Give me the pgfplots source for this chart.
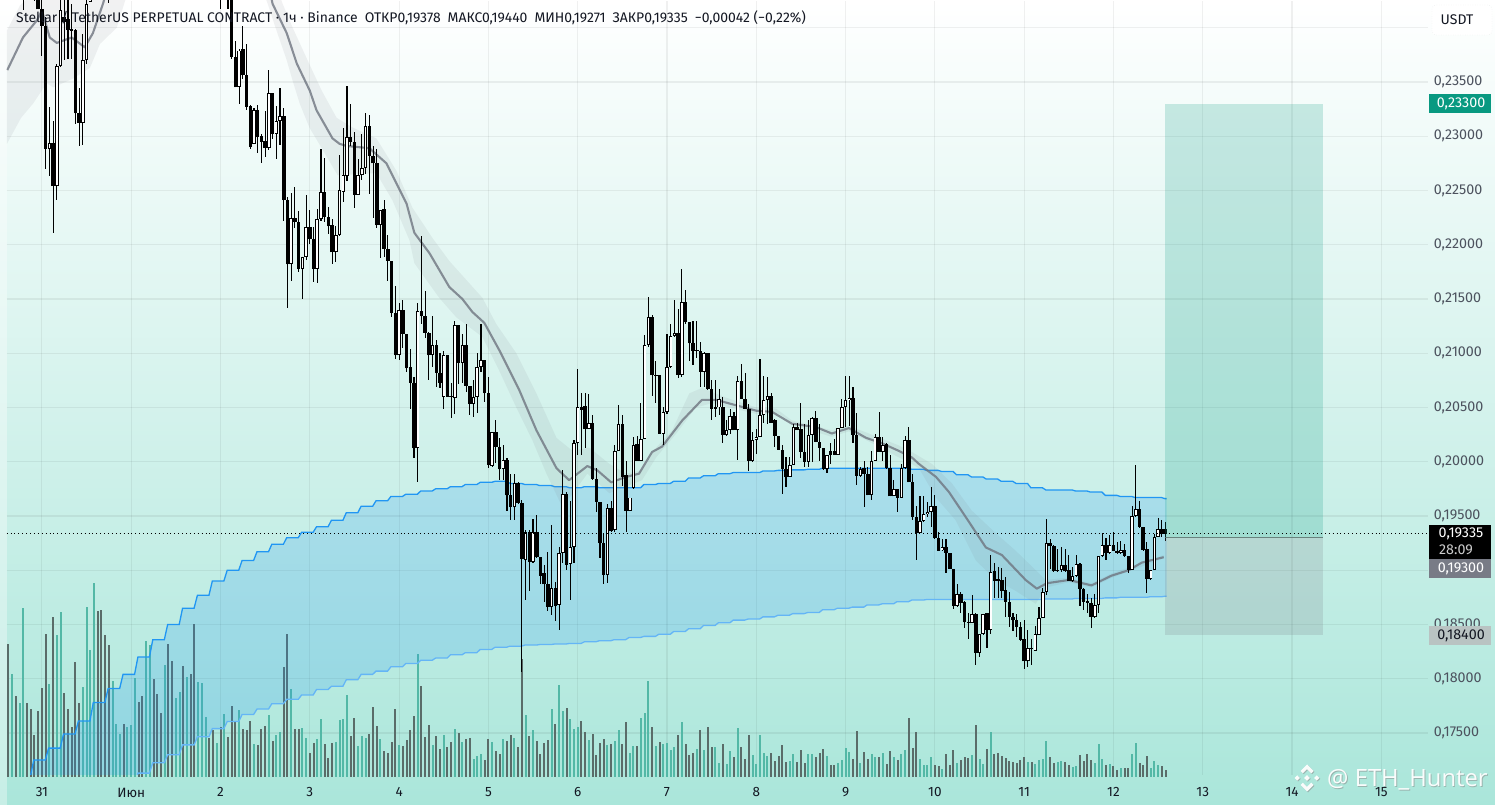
\documentclass[border=0pt]{standalone}
\usepackage{fontspec}
\setmainfont{Fira Sans}
\newfontfamily\wmfont{Open Sans}
\usepackage{pgfplots}
\pgfplotsset{compat=1.18}
\usepackage{pgfplotstable}
\definecolor{bgbot}{HTML}{AAE6DA}
\definecolor{volup}{HTML}{53B8A6}
\definecolor{voldn}{HTML}{5A6C69}
\definecolor{prof}{HTML}{089981}
\definecolor{loss}{HTML}{787B86}
\definecolor{ublue}{HTML}{2196F3}
\definecolor{lblue}{HTML}{64B5F6}
\definecolor{maline}{HTML}{6F7580}
\definecolor{ink}{HTML}{131722}
\definecolor{tickc}{HTML}{4C525E}
\definecolor{stopbox}{HTML}{B9C3C2}
% t = hour from 31 May 00:00; prices in 0.0001 USDT; v = volume (arbitrary units)
\pgfplotstableread{
t o hi lo c v
-9 2500 2510 2470 2480 133
-8 2480 2495 2475 2490 103
-7 2490 2495 2470 2475 81
-6 2475 2485 2470 2480 74
-5 2430 2450 2416 2445 169
-4 2445 2450 2435 2440 74
-3 2440 2445 2430 2435 68
-2 2435 2440 2425 2430 42
-1 2430 2435 2417 2417 66
0 2417 2440 2374 2402 89
1 2402 2410 2270 2288 143
2 2288 2327 2263 2294 93
3 2294 2314 2211 2254 160
4 2254 2367 2241 2365 142
5 2365 2430 2364 2416 165
6 2410 2430 2370 2405 84
7 2408 2440 2371 2398 68
8 2399 2422 2371 2397 50
9 2398 2399 2311 2321 115
10 2321 2344 2291 2312 74
11 2312 2394 2292 2370 90
12 2370 2440 2367 2422 170
13 2424 2450 2424 2445 127
14 2445 2490 2440 2480 194
15 2480 2490 2465 2470 166
16 2470 2480 2455 2460 167
17 2460 2470 2445 2450 142
18 2450 2455 2423 2435 132
19 2435 2455 2430 2450 96
20 2450 2470 2445 2465 53
21 2465 2480 2460 2475 43
22 2475 2480 2460 2465 53
23 2465 2480 2460 2475 50
24 2475 2490 2470 2485 52
25 2485 2510 2480 2505 99
26 2505 2510 2485 2490 75
27 2490 2495 2470 2475 81
28 2475 2515 2470 2510 136
29 2510 2540 2505 2535 132
30 2535 2540 2510 2515 98
31 2515 2520 2495 2500 83
32 2500 2505 2485 2490 64
33 2490 2525 2485 2520 112
34 2520 2525 2485 2490 133
35 2490 2495 2460 2465 116
36 2465 2485 2460 2480 79
37 2480 2500 2475 2495 85
38 2495 2500 2465 2470 111
39 2470 2495 2465 2490 100
40 2490 2495 2465 2470 103
41 2470 2475 2435 2440 153
42 2440 2465 2435 2460 95
43 2460 2475 2455 2470 94
44 2470 2485 2465 2480 60
45 2480 2485 2465 2470 39
46 2470 2475 2450 2455 47
47 2455 2470 2450 2465 34
48 2465 2470 2417 2445 50
49 2445 2460 2430 2455 63
50 2455 2460 2417 2445 40
51 2445 2450 2371 2373 71
52 2373 2388 2345 2345 55
53 2345 2380 2330 2379 67
54 2380 2402 2353 2356 48
55 2356 2385 2324 2327 47
56 2328 2329 2288 2290 56
57 2293 2326 2293 2324 33
58 2324 2329 2285 2299 32
59 2300 2302 2275 2295 48
60 2296 2323 2281 2289 51
61 2289 2361 2287 2340 62
62 2340 2340 2297 2302 36
63 2302 2328 2279 2314 42
64 2314 2344 2292 2319 45
65 2319 2326 2222 2241 110
66 2241 2244 2142 2182 143
67 2182 2248 2167 2225 88
68 2225 2253 2215 2221 48
69 2221 2231 2175 2178 48
70 2178 2189 2150 2189 49
71 2189 2246 2186 2216 39
72 2216 2232 2201 2205 24
73 2205 2216 2166 2178 34
74 2178 2233 2165 2224 38
75 2224 2288 2222 2249 58
76 2249 2280 2221 2226 33
77 2226 2235 2210 2217 19
78 2218 2224 2182 2193 34
79 2193 2217 2184 2209 35
80 2209 2283 2208 2250 57
81 2249 2308 2239 2264 58
82 2263 2346 2259 2299 82
83 2299 2330 2291 2295 41
84 2295 2304 2234 2246 59
85 2246 2279 2246 2264 31
86 2264 2302 2260 2271 41
87 2271 2321 2265 2309 39
88 2309 2320 2247 2282 43
89 2282 2291 2225 2275 70
90 2275 2288 2215 2218 51
91 2218 2232 2188 2232 38
92 2233 2241 2189 2196 26
93 2196 2209 2167 2185 24
94 2185 2185 2133 2137 35
95 2137 2162 2095 2098 68
96 2098 2146 2094 2140 32
97 2140 2149 2105 2118 31
98 2118 2118 2083 2086 37
99 2087 2104 2049 2073 47
100 2073 2078 2003 2013 61
101 2013 2146 1981 2139 123
102 2139 2208 2127 2134 91
103 2134 2157 2114 2119 40
104 2119 2120 2075 2098 52
105 2098 2134 2087 2108 32
106 2108 2112 2069 2082 41
107 2082 2100 2068 2073 28
108 2060 2102 2049 2098 42
109 2098 2098 2060 2060 30
110 2060.5 2073 2040 2060 35
111 2059 2130 2044 2126 48
112 2126 2126 2072 2091 44
113 2091 2118 2073 2108 35
114 2108 2127 2064 2070 38
115 2070 2070 2043 2053 39
116 2053 2075 2041 2060 18
117 2060 2100 2045 2087 21
118 2087 2127 2083 2094 23
119 2094 2094 2055 2063 17
120 2063 2078 1994 1997 38
121 1996 2027 1995 2027 35
122 2027 2038 1999 2014 26
123 2014 2022 1983 1993 23
124 1993 2015 1983 2002 38
125 2002 2003 1955 1969 36
126 1969 1989 1946 1958 42
127 1958 1989 1946 1980 39
128 1980 1981 1961 1962 30
129 1962 1965 1806 1910 118
130 1909 1937 1873 1935 62
131 1935 1937 1881 1908 41
132 1908 1947 1907 1935 47
133 1935 1951 1911 1912 36
134 1912 1912 1887 1895 23
135 1897 1905 1871 1887 34
136 1887 1917 1862 1866 37
137 1866 1942 1859 1884 68
138 1884 1889 1853 1867 53
139 1868 1921 1845 1916 92
140 1916 1992 1907 1970 66
141 1970 1972 1900 1905 69
142 1906 1964 1873 1921 58
143 1921 2020 1907 2017 48
144 2017 2085 2006 2050 50
145 2050 2063 2006 2048 56
146 2051 2063 2013 2030 45
147 2030 2062 2030 2036 37
148 2036 2043 1983 1984 43
149 1984 1994 1954 1963 22
150 1963 1963 1911 1925 34
151 1925 1934 1887 1896 38
152 1896 1961 1888 1957.5 32
153 1957 1964 1935 1936 33
154 1937 2015 1935 2010 36
155 2010 2052 2010 2035 47
156 2035 2043 1978 1986 33
157 1988 2001 1935 1955 55
158 1955 1967 1955 1967 24
159 1976 2023 1975 2015 31
160 2016 2024 2001 2001 31
161 2001 2054 2001 2021 59
162 2021 2117 2021 2108 64
163 2108 2152 2106 2133 96
164 2133 2135 2061 2079.5 50
165 2079 2093 2054 2080 31
166 2080 2080 2026 2026 35
167 2026 2050 2015 2046 33
168 2046 2118 2044 2087 34
169 2087 2127 2086 2116 27
170 2116 2149 2115 2119 30
171 2119 2141 2077 2080 42
172 2080 2178 2078 2147 55
173 2147 2158 2127 2129 33
174 2129 2129 2093 2109 22
175 2109 2130 2089 2102 24
176 2102 2130 2096 2103 28
177 2102 2110 2069 2083 47
178 2083 2101 2069 2100 27
179 2100 2100 2066 2067 50
180 2067 2075 2038 2049 30
181 2049 2075 2041 2050 30
182 2050 2067 2043 2058 14
183 2050 2060 2017 2025 33
184 2025 2038 2024 2029 13
185 2029 2049 2026 2042 26
186 2042 2046 2029 2029 20
187 2029 2079 2002 2074 49
188 2074 2090 2058 2058 30
189 2058 2082 2049 2049 18
190 2049 2053 1991 2001 42
191 2001 2027 2000 2020 22
192 2020 2030 2007 2023 13
193 2023 2095 2023 2043 42
194 2043 2079 2036 2057 24
195 2057 2078 2035 2061 21
196 2061 2063 2036 2036 24
197 2038 2039 2014 2024 16
198 2024 2024 2011 2011 21
199 2011 2015 1970 1993 32
200 1993 2004 1977 1986 15
201 1986 2004 1986 1997 16
202 1997 2035 1997 2032 23
203 2032 2036 2029 2029 15
204 2030 2054 2003 2009 27
205 2009 2035 1995 2000 14
206 2000 2038 1995 2025 23
207 2025 2041 2000 2040 23
208 2040 2047 2018 2018 20
209 2018 2035 2001 2013 24
210 2013 2013 1992 1993 28
211 1993 2006 1990 2006 21
212 2010 2017 1998 2006 12
213 2010 2021 2006 2006 12
214 2006 2031 2006 2031 14
215 2031 2058 2031 2050 17
216 2050 2079 2032 2057 29
217 2057 2079 2033 2059 25
218 2059 2069 2017 2025 18
219 2025 2045 1979 1987 46
220 1987 1995 1986 1993 14
221 1994 2001 1958 1989 25
222 1989 1995 1969 1969 18
223 1969 2010 1965 2001 23
224 2001 2026 2001 2023 20
225 2023 2046 2009 2009 20
226 2009 2023 2001 2015 24
227 2016 2017 1993 1994 13
228 1994 2006 1968 1968 26
229 1968 1983 1968 1975 20
230 1975 1975 1954 1967 17
231 1967 1998 1967 1994 23
232 1994 2024 1993 2020 27
233 2020 2032 1981 1981 59
234 1981 1989 1946 1949 29
235 1949 1959 1909 1934 45
236 1934 1968 1934 1945 18
237 1945 1968 1944 1952 12
238 1952 1963 1949 1954 12
239 1954 1977 1940 1959 20
240 1959 1969 1929 1930 12
241 1930 1935 1918 1918 11
242 1919 1929 1918 1921 8
243 1921 1929 1897 1916 23
244 1916 1916 1901 1901 12
245 1901 1901 1864 1867 27
246 1867 1887 1866 1878 14
247 1878 1880 1861 1870 17
248 1871 1872 1847 1852 20
249 1852 1861 1837 1851.5 19
250 1851 1877 1851 1860 22
251 1860 1861 1813 1824 52
252 1824 1841 1820 1841 18
253 1841 1860 1840 1860 13
254 1861 1861 1828 1845 28
255 1845 1914 1841 1898 45
256 1899 1907 1874 1890 23
257 1891 1903 1874 1890.5 24
258 1891 1902 1874 1881 21
259 1882 1894 1857 1871 19
260 1871 1880 1848 1857 16
261 1857 1861 1844 1854 15
262 1854 1860 1838 1848 14
263 1848 1852 1835 1836 17
264 1837 1854 1809 1816 20
265 1816 1845 1811 1828 15
266 1828 1837 1813 1827.5 15
267 1826 1849 1826 1841 13
268 1840 1866 1840 1856 17
269 1856 1884 1856 1880 18
270 1880 1947 1877 1925 36
271 1925 1929 1901 1922 20
272 1922 1923 1898 1899 14
273 1899 1920 1898 1900 15
274 1900 1921 1898 1905 16
275 1905 1920 1898 1899 15
276 1900 1914 1890 1890 12
277 1890 1903 1889 1895 10
278 1895 1914 1894 1906 11
279 1906 1907 1867 1883 22
280 1883 1884 1863 1871 16
281 1872 1878 1861 1870 23
282 1870 1874 1847 1857 17
283 1857 1878 1856 1868 14
284 1868 1913 1861 1913 33
285 1913 1934 1912 1923 18
286 1923 1930 1909 1916 12
287 1916 1932 1915 1923 13
288 1923 1935 1918 1918 11
289 1918 1926 1915 1916 7
290 1916 1927 1915 1919 9
291 1919 1924 1912 1913 9
292 1913 1913 1897 1900 9
293 1900 1959 1900 1950 23
294 1950 1997 1949 1956 34
295 1956 1964 1939 1940 14
296 1940 1940 1918 1919 12
297 1920 1926 1879 1892 21
298 1892 1900 1891 1900 9
299 1900 1933 1900 1931 16
300 1931 1948 1931 1938 12
301 1938 1946 1931 1933 11
302 1937.8 1944 1927.1 1933.5 7
}\candles
% value-area bounds, 4-hour steps
\pgfplotstableread{
x u l
-6.2 1710 1700
-3.1 1710 1700
-2.2 1725 1700
0.9 1725 1700
1.8 1736 1700
4.9 1736 1700
5.8 1749 1700
8.9 1749 1700
9.8 1761 1700
12.9 1761 1700
13.8 1778 1700
16.9 1778 1700
17.8 1791 1700
20.9 1791 1700
21.8 1804 1700
24.9 1804 1700
25.8 1820 1713
28.9 1820 1713
29.8 1836 1722.5
32.9 1836 1722.5
33.8 1850 1730
36.9 1850 1730
37.8 1865 1739
40.9 1865 1739
41.8 1877 1746.5
44.9 1877 1746.5
45.8 1890 1754
48.9 1890 1754
49.8 1900 1760.5
52.9 1900 1760.5
53.8 1909 1767
56.9 1909 1767
57.8 1917 1772
60.9 1917 1772
61.8 1924 1777
64.9 1924 1777
65.8 1930 1781
68.9 1930 1781
69.8 1935 1785
72.9 1935 1785
73.8 1940 1790
76.9 1940 1790
77.8 1946 1793
80.9 1946 1793
81.8 1953 1799
84.9 1953 1799
85.8 1959 1804
88.9 1959 1804
89.8 1964 1807
92.9 1964 1807
93.8 1968 1811
96.9 1968 1811
97.8 1970 1814
100.9 1970 1814
101.8 1973 1817
104.9 1973 1817
105.8 1975 1819
108.9 1975 1819
109.8 1977 1822
112.9 1977 1822
113.8 1979 1824
116.9 1979 1824
117.8 1981 1827
120.9 1981 1827
121.8 1982 1829
124.9 1982 1829
125.8 1980 1830
128.9 1980 1830
129.8 1979 1831
132.9 1979 1831
133.8 1978 1831.5
136.9 1978 1831.5
137.8 1977 1832
140.9 1977 1832
141.8 1976 1832.5
144.9 1976 1832.5
145.8 1977 1834
148.9 1977 1834
149.8 1976 1835
152.9 1976 1835
153.8 1976 1836
156.9 1976 1836
157.8 1976 1838
160.9 1976 1838
161.8 1979 1839
164.9 1979 1839
165.8 1980 1841
168.9 1980 1841
169.8 1982 1843.5
172.9 1982 1843.5
173.8 1985 1846
176.9 1985 1846
177.8 1987 1849
180.9 1987 1849
181.8 1989 1851.5
184.9 1989 1851.5
185.8 1990 1854
188.9 1990 1854
189.8 1990 1855
192.9 1990 1855
193.8 1991.5 1857
196.9 1991.5 1857
197.8 1992 1858.5
200.9 1992 1858.5
201.8 1992.5 1860
204.9 1992.5 1860
205.8 1993 1861
208.9 1993 1861
209.8 1994 1863.5
212.9 1994 1863.5
213.8 1994 1865
216.9 1994 1865
217.8 1994 1866
220.9 1994 1866
221.8 1994 1868
224.9 1994 1868
225.8 1994 1869
228.9 1994 1869
229.8 1994 1871
232.9 1994 1871
233.8 1993 1872.5
236.9 1993 1872.5
237.8 1992 1873
240.9 1992 1873
241.8 1991 1873
244.9 1991 1873
245.8 1988 1873
248.9 1988 1873
249.8 1986 1873
252.9 1986 1873
253.8 1984 1873
256.9 1984 1873
257.8 1982 1873
260.9 1982 1873
261.8 1980 1873
264.9 1980 1873
265.8 1976 1873
268.9 1976 1873
269.8 1974 1873.5
272.9 1974 1873.5
273.8 1974 1873.5
276.9 1974 1873.5
277.8 1973 1874
280.9 1973 1874
281.8 1972 1874
284.9 1972 1874
285.8 1969 1874.5
288.9 1969 1874.5
289.8 1968 1875
292.9 1968 1875
293.8 1967 1875
296.9 1967 1875
297.8 1967 1875.5
300.9 1967 1875.5
301.8 1966 1876
302.3 1966 1876
}\steps
% closed outline of the value area: upper bound forward, lower bound back
\pgfplotstablesort[sort key=x,sort cmp={float >}]{\stepsrev}{\steps}
\pgfplotstablecreatecol[expr={\thisrow{u}}]{y}{\steps}
\pgfplotstablecreatecol[expr={\thisrow{l}}]{y}{\stepsrev}
\pgfplotstablevertcat{\area}{\steps}
\pgfplotstablevertcat{\area}{\stepsrev}
\pgfplotsset{
 pane/.style={at={(17.8,28)},anchor=south west,scale only axis,width=1421pt,height=774pt,
  xmin=-9.488,xmax=372.44},
 wick/.style 2 args={draw=none,mark=none,forget plot,error bars/.cd,y dir=both,y explicit,error mark=none,
  error bar style={solid,draw=#2,line width=#1}},
}
\begin{document}
\begin{tikzpicture}[x=1pt,y=1pt]
\shade[top color=white,bottom color=bgbot] (0,0) rectangle (1495,805);
\fill[white,opacity=.35] (0,0) rectangle (7,805);
% frame: grid and tick labels
\begin{axis}[pane,ymin=1711.6,ymax=2425,
  axis line style={draw=none},major tick length=0pt,
  grid=major,grid style={draw=black,opacity=.06,line width=1.1pt},
  xtick={0,24,...,360},
  xticklabels={31,Июн,2,3,4,5,6,7,8,9,10,11,12,13,14,15},
  ytick={1750,1800,...,2400},
  yticklabels={{0,17500},{0,18000},{0,18500},{0,19000},{0,19500},{0,20000},{0,20500},{0,21000},{0,21500},{0,22000},{0,22500},{0,23000},{0,23500},{}},
  yticklabel pos=right,
  tick label style={inner sep=0pt},
  yticklabel style={font=\fontsize{14.3}{16}\selectfont,text=tickc,xshift=6pt},
  xticklabel style={font=\fontsize{13.5}{15}\selectfont,text=ink,yshift=-13pt},
]
\end{axis}
% volume
\begin{axis}[pane,hide axis,ymin=0,ymax=774]
\addplot[ycomb,volup,line width=2pt,mark=none] table[x expr={\thisrow{c}>=\thisrow{o} ? \thisrow{t} : nan},y=v] {\candles};
\addplot[ycomb,voldn,line width=2pt,mark=none] table[x expr={\thisrow{c}<\thisrow{o} ? \thisrow{t} : nan},y=v] {\candles};
\end{axis}
% price
\begin{axis}[pane,hide axis,ymin=1711.6,ymax=2425]
\addplot[fill=ublue,fill opacity=.2,draw=none] table[x=x,y=y] {\area} --cycle;
\addplot[ublue,line width=1.3pt] table[x=x,y=u] {\steps};
\addplot[lblue,line width=1.3pt] table[x=x,y=l] {\steps};
% moving-average band
\addplot[fill=loss,draw=none,fill opacity=.10] coordinates {
(-9.4,2397.5)(-5.9,2420.5)(0,2439)(15.6,2480)(58.5,2480)(64.7,2422)(67.4,2400)(71.4,2370)(75.2,2342)(79.2,2317)(83.5,2308)(89.9,2298)(95.3,2268)(99.6,2234)(105,2206)(109.5,2185)(118.4,2151)(122.1,2127)(127.5,2100)(132.9,2063)(138.3,2022)(142.6,2010)(147.1,2013)(152.5,1998)(157,1989)(161.3,1992)(165.1,2013)(169.4,2029)(174,2063)(177.4,2068)(183.9,2059)(192,2050)(197.3,2049)(201.6,2038)(212.3,2029)(216.9,2033)(222.3,2026)(230.3,2015)(233.8,2009)(239.2,1998)(244.6,1980)(249.9,1955)(256.4,1934)(261.7,1918)(269.8,1891)(275.2,1893)(282.1,1888)(287.5,1897)(301.5,1914)
(301.5,1911)(287.5,1893)(282.1,1884)(276,1889)(269.8,1884)(267.1,1869)(261.7,1881)(256.4,1891)(251,1909)(245.6,1946)(240.3,1967)(235.7,1994)(233.8,1998)(230.3,2004)(221.5,2020)(216.9,2028)(212.3,2023)(203.5,2032)(198.1,2044)(192,2044)(180.1,2054)(175.8,2050)(170.5,2026)(165.1,2004)(161.3,1983)(152.5,1971)(146.6,1989)(139.9,1958)(135.6,1989)(131.8,2020)(127.5,2050)(122.9,2084)(118.4,2115)(111.4,2133)(106.8,2151)(100.1,2183)(98.8,2204)(94.2,2241)(89.9,2266)(79.5,2264)(75.2,2289)(71.9,2308)(69.3,2330)(67.4,2351)(65.8,2370)(62.6,2402)(60.7,2422)(57.2,2453)(25,2453)(22,2421)(20.1,2400)(15.6,2385)(12.9,2363)(8.3,2353)(3,2345)(1.3,2349)(-2.4,2330)(-5.6,2317)(-9.4,2293)
} --cycle;
% moving average
\addplot[maline,line width=2.1pt,opacity=.8,line join=round] coordinates {
(-9.3,2361)(-5.1,2391)(-1.3,2407)(0,2416)(2.1,2391)(4,2386)(8,2391)(11.5,2382)(13.7,2395)(16.4,2422)(18.3,2444)(21,2480)(58.5,2480)(62,2422)(65.8,2395)(68.5,2367)(72,2342)(73.8,2324)(78.1,2298)(80,2293)(81.9,2291)(88,2289)(92.6,2275)(98,2238)(100.1,2211)(104.2,2192)(109.5,2161)(113,2150)(115.7,2138)(118.9,2128)(122.9,2103)(128.3,2066)(132.9,2029)(138.3,1994)(141.7,1983)(146.6,1996)(149.3,1992)(153,1981)(157,1986)(160.5,1989)(164,2009)(166.7,2014)(172.1,2038)(177.4,2057)(181.2,2057)(185.5,2053)(192,2047)(196.2,2046)(201.6,2035)(208,2032)(212.3,2026)(216.9,2031)(221.5,2022)(225.8,2017)(230.3,2010)(233.8,2004)(235.7,1998)(240.3,1986)(243.8,1972)(248.3,1949)(253.7,1921)(258,1914)(264.4,1891)(267.4,1883)(270.1,1888)(276,1891)(282.1,1886)(287.5,1895)(292.1,1900)(295.6,1907)(301.5,1912)};
% candles: wicks
\addplot[wick={1.1pt}{black}] table[x=t,y=c,y error plus expr={\thisrow{hi}-\thisrow{c}},y error minus expr={\thisrow{c}-\thisrow{lo}}] {\candles};
% falling bodies
\addplot[wick={3.5pt}{black}] table[x expr={\thisrow{c}<\thisrow{o} ? \thisrow{t} : nan},y=c,y error plus expr={max(\thisrow{o}-\thisrow{c},1)},y error minus expr={0}] {\candles};
% rising bodies: outline and white inside
\addplot[wick={3.5pt}{black}] table[x expr={\thisrow{c}>=\thisrow{o} ? \thisrow{t} : nan},y=o,y error plus expr={max(\thisrow{c}-\thisrow{o},1)},y error minus expr={0}] {\candles};
\addplot[wick={1.7pt}{white}] table[x expr={\thisrow{c}>=\thisrow{o} ? \thisrow{t} : nan},y expr={(\thisrow{o}+\thisrow{c})/2},y error plus expr={max((\thisrow{c}-\thisrow{o})/2-0.9,0)},y error minus expr={max((\thisrow{c}-\thisrow{o})/2-0.9,0)}] {\candles};
% long position
\addplot[fill=prof,draw=none,fill opacity=.2] coordinates {(301.75,1930)(344.2,1930)(344.2,2330)(301.75,2330)} --cycle;
\addplot[fill=loss,draw=none,fill opacity=.2] coordinates {(301.75,1840)(344.2,1840)(344.2,1930)(301.75,1930)} --cycle;
\addplot[color=voldn,line width=1.2pt,opacity=.8] coordinates {(301.75,1930)(344.2,1930)};
% last price
\addplot[black,line width=.9pt,dash pattern=on .9pt off 3pt] coordinates {(-9.488,1933.5)(372.44,1933.5)};
\end{axis}
% header
\node[anchor=base west,inner sep=0pt,text=ink,font=\fontsize{13.95}{15}\selectfont] at (16,782) {Stellar / TetherUS PERPETUAL CONTRACT · 1ч · Binance\hspace{7pt}ОТКР0,19378\hspace{7pt}МАКС0,19440\hspace{7pt}МИН0,19271\hspace{7pt}ЗАКР0,19335\hspace{7pt}−0,00042 (−0,22\%)};
% USDT box
\fill[white,rounded corners=4pt] (1432,770) rectangle (1492,800);
\draw[black!12,dotted,rounded corners=4pt] (1432,770) rectangle (1492,800);
\node[text=ink,font=\fontsize{14}{15}\selectfont,inner sep=0pt] at (1457,785) {USDT};
% price labels
\def\plabel#1#2#3#4#5{\fill[#3] (1429,#1) rectangle (1491,#2);\node[inner sep=0pt,text=#4,font=\fontsize{14.3}{16}\selectfont] at (1461,{(#1+#2)/2}) {#5};}
\plabel{692}{711}{prof}{white}{0,23300}
\fill[black] (1429,246) rectangle (1491,280);
\node[inner sep=0pt,text=white,font=\fontsize{14.3}{16}\selectfont] at (1461,271) {0,19335};
\node[inner sep=0pt,text=black!20,font=\fontsize{14.3}{16}\selectfont] at (1456,255) {28:09};
\plabel{227}{246}{loss}{white}{0,19300}
\plabel{160}{179}{stopbox}{ink}{0,18400}
% watermark
\begin{scope}[shift={(1307,27)}]
 \foreach \dx/\col/\op in {0.9/black!45/.55,0/white/.95}{
 \begin{scope}[shift={(\dx,-\dx)},fill=\col,opacity=\op]
  \fill (0,13.5)--(6.5,7)--(4.2,4.7)--(0,8.9)--(-4.2,4.7)--(-6.5,7)--cycle;
  \fill (0,-13.5)--(6.5,-7)--(4.2,-4.7)--(0,-8.9)--(-4.2,-4.7)--(-6.5,-7)--cycle;
  \fill (0,2.8)--(2.8,0)--(0,-2.8)--(-2.8,0)--cycle;
  \fill (-9.8,2.6)--(-7.2,0)--(-9.8,-2.6)--(-12.4,0)--cycle;
  \fill (9.8,2.6)--(12.4,0)--(9.8,-2.6)--(7.2,0)--cycle;
 \end{scope}}
\end{scope}
\node[anchor=base west,inner sep=0pt,text=black!45,opacity=.55,font=\wmfont\fontsize{23.8}{25}\selectfont] at (1327.9,17.1) {@ ETH\_Hunter};
\node[anchor=base west,inner sep=0pt,text=white,opacity=.95,font=\wmfont\fontsize{23.8}{25}\selectfont] at (1327,18) {@ ETH\_Hunter};
\end{tikzpicture}
\end{document}
